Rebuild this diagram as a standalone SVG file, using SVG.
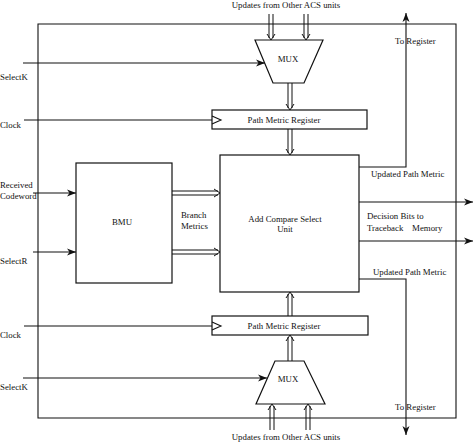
<svg xmlns="http://www.w3.org/2000/svg" width="474" height="443" viewBox="0 0 474 443">
<style>
text{font-family:'Liberation Serif','Times New Roman',serif;font-size:8.8px;fill:#111}
.ln{fill:none;stroke:#111;stroke-width:1.1}
.box{fill:#fff;stroke:#111;stroke-width:1.2}
.bus{fill:none;stroke:#111;stroke-width:1}
.c{text-anchor:middle}
</style>
<defs>
<marker id="ah" markerUnits="userSpaceOnUse" markerWidth="10" markerHeight="8" refX="9" refY="4" orient="auto">
<path d="M0,0.5 L9,4 L0,7.5 L2.5,4 z" fill="#111"/>
</marker>
</defs>
<rect x="0" y="0" width="474" height="443" fill="#fff"/>
<g id="connectors">
<path class="ln" d="M38,24 H456 V418 H38 Z"/>
<path class="ln" d="M23,63 H265" marker-end="url(#ah)"/>
<path class="ln" d="M24,120 H212"/>
<path class="ln" d="M24,326 H212"/>
<path class="ln" d="M23,378 H267" marker-end="url(#ah)"/>
<path class="ln" d="M33,193 H76" marker-end="url(#ah)"/>
<path class="ln" d="M33,252 H76" marker-end="url(#ah)"/>
<path class="ln" d="M359,167 H406 V13" marker-end="url(#ah)"/>
<path class="ln" d="M359,279 H406 V435" marker-end="url(#ah)"/>
<path class="ln" d="M359,202 H473" marker-end="url(#ah)"/>
<path class="ln" d="M359,241 H473" marker-end="url(#ah)"/>
<path class="bus" d="M269,14 V38 M273,14 V38 M267,34 L271,40 L275,34"/>
<path class="bus" d="M304,14 V38 M308,14 V38 M302,34 L306,40 L310,34"/>
<path class="bus" d="M288,83 V108 M292,83 V108 M286,104 L290,110 L294,104"/>
<path class="bus" d="M288,129 V153 M292,129 V153 M286,149 L290,155 L294,149"/>
<path class="bus" d="M288,316 V294 M292,316 V294 M286,298 L290,292 L294,298"/>
<path class="bus" d="M288,361 V337 M292,361 V337 M286,341 L290,335 L294,341"/>
<path class="bus" d="M270,430 V406 M274,430 V406 M268,410 L272,404 L276,410"/>
<path class="bus" d="M306,430 V406 M310,430 V406 M304,410 L308,404 L312,410"/>
<path class="bus" d="M172,191 H218 M172,195 H218 M214,189 L220,193 L214,197"/>
<path class="bus" d="M172,250 H218 M172,254 H218 M214,248 L220,252 L214,256"/>
</g>
<g id="mux-top">
<polygon class="box" points="255,40 323,40 304,83 273,83"/>
<text x="288" y="62" class="c">MUX</text>
</g>
<g id="pmr-top">
<rect class="box" x="212" y="110" width="155" height="19"/>
<polyline class="ln" points="212,116 221,120 212,124"/>
<text x="284" y="123" class="c">Path Metric Register</text>
</g>
<g id="acs">
<rect class="box" x="220" y="155" width="139" height="137"/>
<text x="285" y="222" class="c">Add Compare Select</text>
<text x="285" y="232" class="c">Unit</text>
</g>
<g id="bmu">
<rect class="box" x="76" y="163" width="96" height="120"/>
<text x="122" y="225" class="c">BMU</text>
</g>
<g id="pmr-bottom">
<rect class="box" x="212" y="316" width="156" height="19"/>
<polyline class="ln" points="212,322 221,326 212,330"/>
<text x="284" y="329" class="c">Path Metric Register</text>
</g>
<g id="mux-bottom">
<polygon class="box" points="275,361 304,361 325,404 256,404"/>
<text x="288" y="382" class="c">MUX</text>
</g>
<g id="labels">
<text x="286" y="8" class="c">Updates from Other ACS units</text>
<text x="286" y="440" class="c">Updates from Other ACS units</text>
<text x="0" y="80">SelectK</text>
<text x="0" y="128">Clock</text>
<text x="0" y="188">Received</text>
<text x="0" y="199">Codeword</text>
<text x="0" y="264">SelectR</text>
<text x="0" y="338">Clock</text>
<text x="0" y="390">SelectK</text>
<text x="181" y="218">Branch</text>
<text x="181" y="229">Metrics</text>
<text x="395" y="44">To Register</text>
<text x="395" y="410">To Register</text>
<text x="371" y="177">Updated Path Metric</text>
<text x="373" y="275">Updated Path Metric</text>
<text x="367" y="219">Decision Bits to</text>
<text x="367" y="231" xml:space="preserve">Traceback    Memory</text>
</g>
</svg>
